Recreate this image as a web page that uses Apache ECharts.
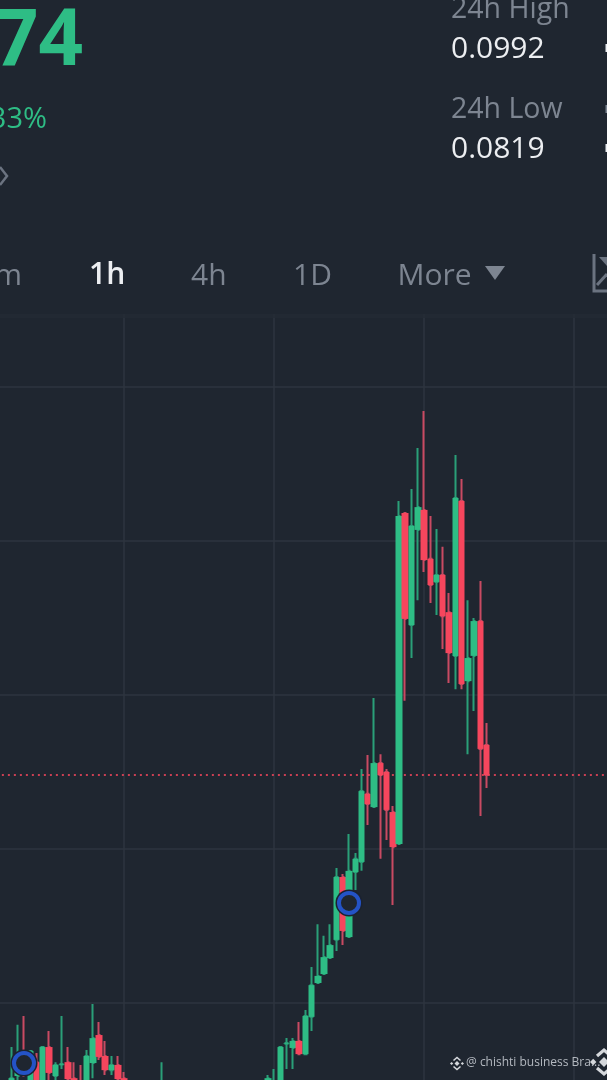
<!DOCTYPE html>
<html>
<head>
<meta charset="utf-8">
<style>html,body{margin:0;padding:0;background:#1f2630}#c{width:607px;height:1080px}</style>
<script src="https://cdn.jsdelivr.net/npm/echarts@6/dist/echarts.min.js"></script>
</head>
<body>
<div id="c"></div>
<script>
// Hourly candle positions relative to the highlighted vertical grid line
var hours = [];
for (var h = -68; h <= 29; h++) hours.push(String(h));

var opens = [null,null,
 .0774,.07763,.0784,.0775,.07808,.0770,.07857,.07763,.0780,.07808,.07756,.0772,.0770,.07805,.07896,.07828,.07782,.07799,.07756,
 null,null,null,null,null,.0765,
 null,null,null,null,null,null,null,null,null,null,null,null,null,null,null,null,
 .0770,.0770,.0770,.07868,.07854,.07877,.07834,.07955,.08065,.08094,.08146,.08205,.08409,.08214,.08425,.08458,.08679,.08636,.08779,.0875,.0862,
 .08516,.09591,.09227,.09536,.09601,.09442,.09367,.0939,.09269,.09127,.0963,.09045,.09127,.0924,.08838];
var closes = [null,null,
 .07756,.07815,.0778,.07844,.0770,.07857,.07773,.07799,.07802,.07753,.0770,.0770,.07828,.07886,.07825,.07782,.07799,.07753,.0770,
 null,null,null,null,null,.0770,
 null,null,null,null,null,null,null,null,null,null,null,null,null,null,null,null,
 .07756,.0772,.07857,.0787,.07877,.07834,.07958,.08058,.08088,.08149,.08188,.08409,.08234,.08429,.08468,.08688,.08646,.08779,.0874,.08627,.08506,
 .09581,.09247,.09549,.0961,.09438,.09357,.0939,.09256,.09136,.0964,.09036,.0912,.0924,.08825,.0874];
var lows = [null,null,
 .0773,.0775,.0776,.0774,.0769,.0769,.0770,.0770,.07786,.0770,.0769,.0769,.0769,.07756,.07815,.07766,.07766,.0770,.0769,
 null,null,null,null,null,.0760,
 null,null,null,null,null,null,null,null,null,null,null,null,null,null,null,null,
 .0769,.0769,.0769,.07786,.07786,.07834,.07834,.07909,.08065,.08094,.08146,.08169,.08188,.08214,.08367,.08429,.08578,.08636,.08468,.08529,.08318,
 .08516,.08981,.0912,.09308,.09399,.09299,.0926,.09149,.09039,.09019,.09019,.08808,.08948,.08607,.08698];
var highs = [null,null,
 .07857,.07929,.07958,.07844,.07838,.07857,.07909,.07808,.07958,.07857,.07808,.07799,.07847,.07997,.07938,.07877,.07828,.07828,.07776,
 null,null,null,null,null,.07808,
 null,null,null,null,null,null,null,null,null,null,null,null,null,null,null,null,
 .07766,.07786,.07857,.07886,.07886,.07938,.07977,.08117,.08256,.08218,.08256,.08438,.08419,.08549,.08487,.0876,.08805,.0899,.08808,.0876,.0864,
 .0963,.09591,.09669,.09802,.09922,.09581,.09539,.09481,.09331,.09779,.09701,.09308,.0925,.0937,.08909];

var lastPrice = 0.0874;
var priceTicks = { min: 0.075, max: 0.105, step: 0.005 };
var markerHours = ['-64', '-12'];
var markerPrices = [0.07805, 0.08325];

var BG = '#1f2630', GRID = '#2e353f', GREEN = '#2ebd85', RED = '#f6465d';
var GREEN_W = '#2a9f78', RED_W = '#c94a62', GRAY = '#7d8591', WHITE = '#eceef1';
var FONT = '"Open Sans", sans-serif';

var wicks = [], bodies = [];
opens.forEach(function (o, i) {
  if (o === null) { wicks.push(['-','-','-','-']); bodies.push(['-','-','-','-']); return; }
  var c = closes[i];
  wicks.push([o, c, lows[i], highs[i]]);
  bodies.push([o, c, Math.min(o, c), Math.max(o, c)]);
});
var markers = markerHours.map(function (m, i) { return [m, markerPrices[i]]; });

function txt(t, x, y, size, fill, align, weight) {
  return { type: 'text', z: 101, silent: true, style: {
    text: t, x: x, y: y, fill: fill, align: align || 'left', verticalAlign: 'middle',
    font: (weight || 400) + ' ' + size + 'px ' + FONT } };
}
function diamond(cx, cy, r, fill, z) {
  return { type: 'polygon', z: z || 101, silent: true,
    shape: { points: [[cx, cy - r], [cx + r, cy], [cx, cy + r], [cx - r, cy]] }, style: { fill: fill } };
}
function logo(cx, cy, s, fill) {
  return [
    diamond(cx, cy, 2.5 * s, fill),
    diamond(cx - 5.4 * s, cy, 1.6 * s, fill),
    diamond(cx + 5.4 * s, cy, 1.6 * s, fill),
    { type: 'polyline', z: 101, silent: true,
      shape: { points: [[cx - 3.5 * s, cy - 3 * s], [cx, cy - 6 * s], [cx + 3.5 * s, cy - 3 * s]] },
      style: { stroke: fill, lineWidth: 1.6 * s, fill: 'none' } },
    { type: 'polyline', z: 101, silent: true,
      shape: { points: [[cx - 3.5 * s, cy + 3 * s], [cx, cy + 6 * s], [cx + 3.5 * s, cy + 3 * s]] },
      style: { stroke: fill, lineWidth: 1.6 * s, fill: 'none' } }
  ];
}

var graphics = [
  { type: 'rect', z: 100, silent: true, shape: { x: 0, y: 0, width: 607, height: 314 }, style: { fill: BG } },
  { type: 'rect', z: 99, silent: true, shape: { x: 0, y: 314, width: 607, height: 4 }, style: { fill: '#232a35', opacity: .8 } },
  txt('74', 83, 43, 78, GREEN, 'right', 700),
  txt('33%', 47, 120, 29, GREEN, 'right'),
  { type: 'polyline', z: 101, silent: true, shape: { points: [[0, 167], [7, 176], [0, 185]] },
    style: { stroke: '#6b7380', lineWidth: 2.5, fill: 'none' } },
  txt('24h High', 451, 10, 28.5, GRAY),
  txt('0.0992', 451, 49, 30, WHITE),
  txt('24h Low', 451, 110, 28.5, GRAY),
  txt('0.0819', 451, 149, 30, WHITE),
  txt('m', 22, 276, 30, GRAY, 'right'),
  txt('1h', 89, 275, 30, WHITE, 'left', 600),
  txt('4h', 191, 276, 30, GRAY),
  txt('1D', 293, 276, 30, GRAY),
  txt('More', 397.5, 276, 30, GRAY),
  { type: 'polygon', z: 101, silent: true, shape: { points: [[485, 266], [505, 266], [495, 280]] }, style: { fill: GRAY } },
  { type: 'polyline', z: 101, silent: true, shape: { points: [[594, 254], [594, 291], [607, 291]] },
    style: { stroke: '#6b7380', lineWidth: 3, fill: 'none' } },
  { type: 'polygon', z: 101, silent: true, shape: { points: [[599, 257], [607, 257], [607, 266]] }, style: { fill: '#6b7380' } },
  { type: 'line', z: 101, silent: true, shape: { x1: 597, y1: 285, x2: 607, y2: 274 }, style: { stroke: '#6b7380', lineWidth: 3 } },
  { type: 'rect', z: 101, silent: true, shape: { x: 605.5, y: 44, width: 1.5, height: 8 }, style: { fill: WHITE } },
  { type: 'rect', z: 101, silent: true, shape: { x: 605.5, y: 144, width: 1.5, height: 8 }, style: { fill: WHITE } },
  { type: 'rect', z: 101, silent: true, shape: { x: 605.5, y: 105, width: 1.5, height: 8 }, style: { fill: GRAY } },
  txt('@ chishti business Bra...', 466, 1063, 12, '#b4b9c0')
].concat(logo(457, 1063.5, 1, '#d5d8dc')).concat(logo(604, 1062, 2, '#d5d8dc'));

var chart = echarts.init(document.getElementById('c'), null, { renderer: 'canvas', width: 607, height: 1080 });
chart.setOption({
  animation: false,
  backgroundColor: BG,
  grid: { left: -4.125, top: 233, width: 612.5, height: 924, containLabel: false, outerBoundsMode: 'none' },
  xAxis: {
    type: 'category', data: hours, boundaryGap: true,
    axisLine: { show: false }, axisTick: { show: false }, axisLabel: { show: false },
    splitLine: {
      show: true, alignWithLabel: true,
      interval: function (i) { return (i - 68) % 24 === 0; },
      lineStyle: { color: GRID, width: 1.5 }
    }
  },
  yAxis: {
    type: 'value', min: priceTicks.min, max: priceTicks.max, interval: priceTicks.step,
    axisLine: { show: false }, axisTick: { show: false }, axisLabel: { show: false },
    splitLine: { show: true, lineStyle: { color: GRID, width: 1.5 } }
  },
  series: [
    { type: 'candlestick', name: 'wick', data: wicks, barWidth: 2, z: 3,
      itemStyle: { color: GREEN_W, color0: RED_W, borderColor: GREEN_W, borderColor0: RED_W, borderWidth: 2 },
      markLine: { silent: true, symbol: 'none', z: 4, precision: 5, label: { show: false },
        lineStyle: { type: [2, 4], color: RED, width: 2, opacity: .8 },
        data: [{ yAxis: lastPrice }] } },
    { type: 'candlestick', name: 'body', data: bodies, barWidth: 7, z: 5,
      itemStyle: { color: GREEN, color0: RED, borderColor: GREEN, borderColor0: RED, borderWidth: 0 } },
    { type: 'scatter', name: 'markerHalo', data: markers, symbolSize: 27, z: 6, silent: true,
      itemStyle: { color: '#1b2230', opacity: 1 } },
    { type: 'scatter', name: 'marker', data: markers, symbolSize: 20, z: 7, silent: true,
      itemStyle: { color: BG, borderColor: '#2453c6', borderWidth: 4, opacity: 1 } }
  ],
  graphic: { elements: graphics }
});
</script>
</body>
</html>
